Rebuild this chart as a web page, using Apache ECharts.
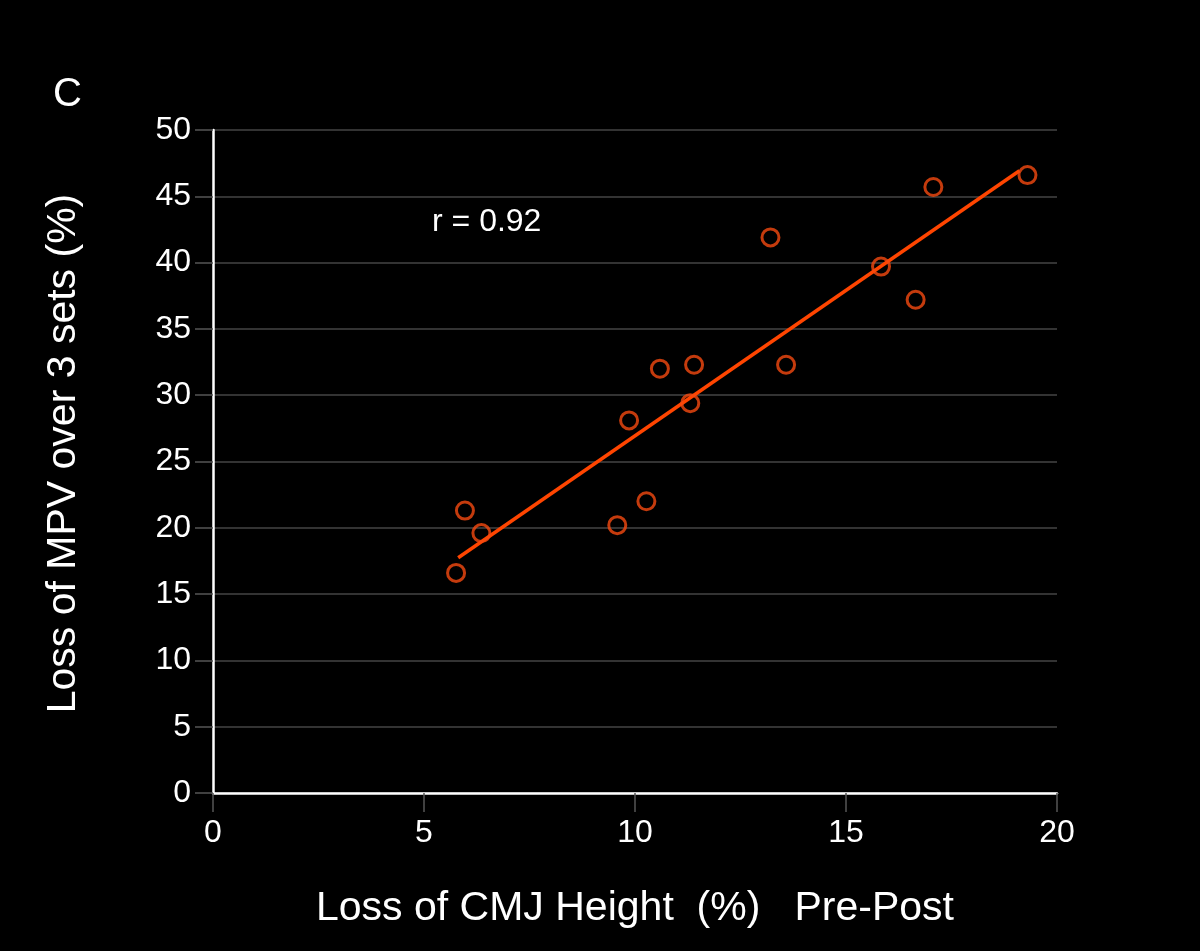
<!DOCTYPE html>
<html>
<head>
<meta charset="utf-8">
<script src="https://cdn.jsdelivr.net/npm/echarts@6/dist/echarts.min.js"></script>
<style>
html,body{margin:0;padding:0;background:#000;}
#chart{width:1200px;height:951px;}
</style>
</head>
<body>
<div id="chart"></div>
<script>
const xValues = [5.76, 5.97, 6.36, 9.58, 9.86, 10.27, 10.59, 11.31, 11.40, 13.21, 13.58, 15.83, 16.65, 17.07, 19.30];
const yValues = [16.6, 21.3, 19.6, 20.2, 28.1, 22.0, 32.0, 29.4, 32.3, 41.9, 32.3, 39.7, 37.2, 45.7, 46.6];
const trendX = [5.81, 19.11];
const trendY = [17.74, 46.93];
const xTicks = [0, 5, 10, 15, 20];
const yTicks = [0, 5, 10, 15, 20, 25, 30, 35, 40, 45, 50];
const rLabel = 'r = 0.92';
const panelLabel = 'C';
const xName = 'Loss of CMJ Height  (%)   Pre-Post';
const yName = 'Loss of MPV over 3 sets (%)';

const FONT = 'Liberation Sans';
const chart = echarts.init(document.getElementById('chart'));
chart.setOption({
  backgroundColor: '#000',
  animation: false,
  textStyle: {fontFamily: FONT},
  grid: {left: 213, right: 143, top: 130, bottom: 158},
  graphic: [
    {type: 'text', left: 53, top: 75, style: {text: panelLabel, fill: '#fff', font: '40px ' + FONT}},
    {type: 'text', left: 432, top: 206, style: {text: rLabel, fill: '#fff', font: '32px ' + FONT}}
  ],
  xAxis: {
    type: 'value', min: xTicks[0], max: xTicks[xTicks.length - 1], interval: 5,
    name: xName, nameLocation: 'middle', nameGap: 95,
    nameTextStyle: {color: '#fff', fontSize: 41, fontFamily: FONT},
    axisLine: {show: true, onZero: false, lineStyle: {color: '#fff', width: 2.5}},
    axisTick: {show: true, length: 19, lineStyle: {color: '#555', width: 1.5}},
    axisLabel: {color: '#fff', fontSize: 32, margin: 24, fontFamily: FONT},
    splitLine: {show: false}
  },
  yAxis: {
    type: 'value', min: yTicks[0], max: yTicks[yTicks.length - 1], interval: 5,
    name: yName, nameLocation: 'middle', nameGap: 129, nameRotate: 90,
    nameTextStyle: {color: '#fff', fontSize: 41, fontFamily: FONT, padding: [0, 0, 0, 16]},
    axisLine: {show: true, onZero: false, lineStyle: {color: '#fff', width: 2.5}},
    axisTick: {show: true, length: 18, lineStyle: {color: '#555', width: 1.5}},
    axisLabel: {color: '#fff', fontSize: 32, margin: 22, fontFamily: FONT},
    splitLine: {show: true, lineStyle: {color: '#444', width: 1.5}}
  },
  series: [
    {
      type: 'line', data: trendX.map((x, i) => [x, trendY[i]]),
      symbol: 'none', lineStyle: {color: '#ff4500', width: 3.5}, z: 2
    },
    {
      type: 'scatter', data: xValues.map((x, i) => [x, yValues[i]]),
      symbol: 'circle', symbolSize: 17,
      itemStyle: {color: 'rgba(0,0,0,0)', borderColor: '#f54a10', borderWidth: 3}, z: 3
    }
  ]
});
</script>
</body>
</html>
